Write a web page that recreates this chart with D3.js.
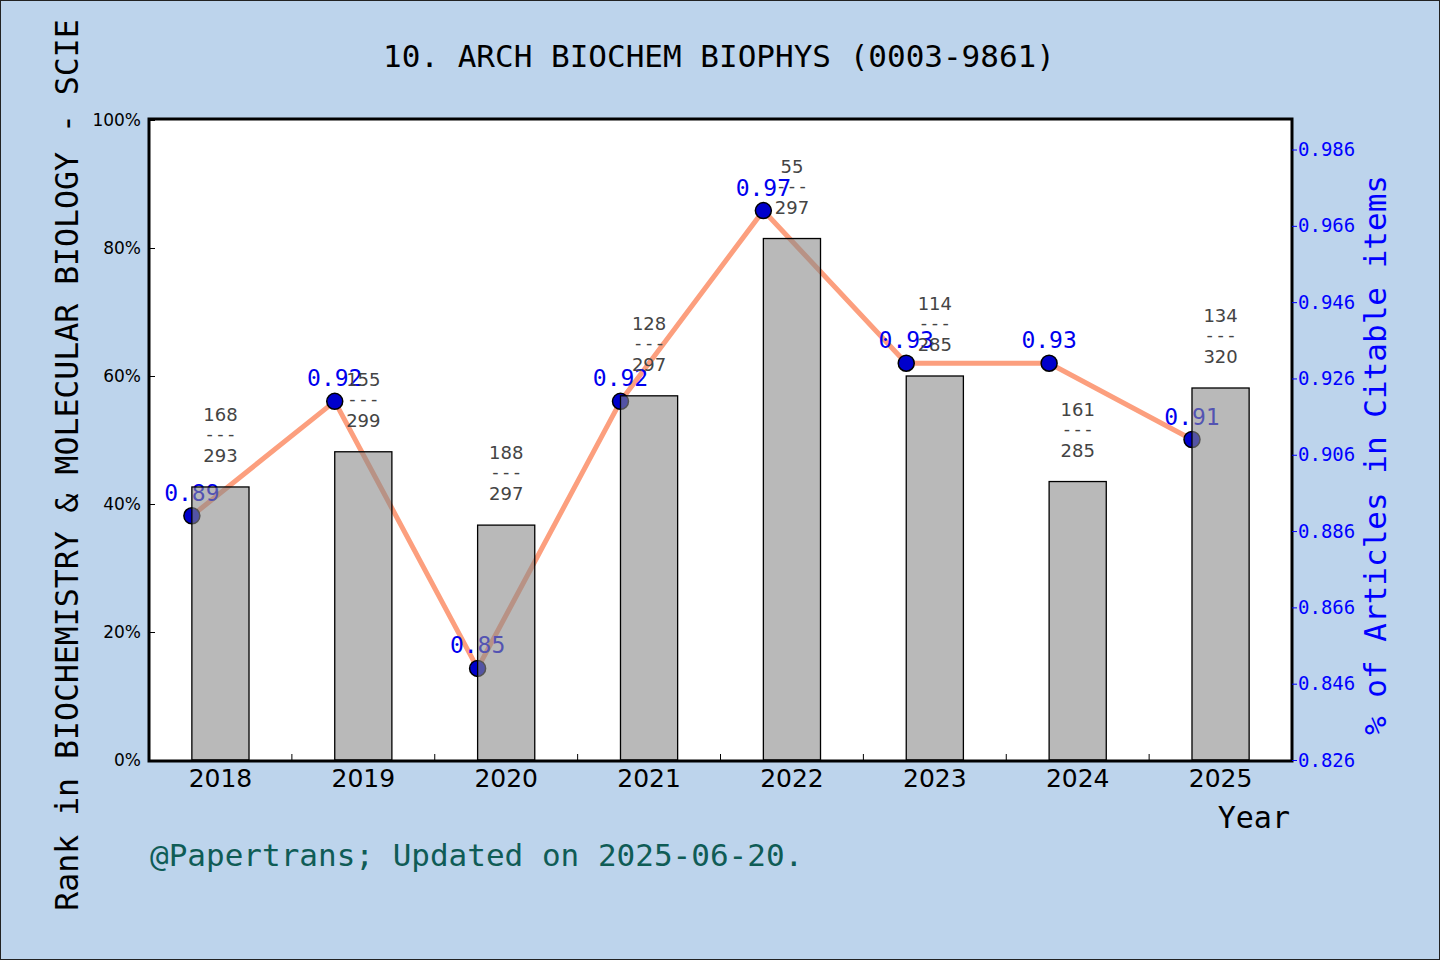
<!DOCTYPE html>
<html>
<head>
<meta charset="utf-8">
<script src="https://cdn.jsdelivr.net/npm/d3@7"></script>
<style>
  body { margin: 0; background: #bdd4ec; }
  svg { display: block; }
</style>
</head>
<body>
<div id="chart"></div>
<script>
var years = ['2018', '2019', '2020', '2021', '2022', '2023', '2024', '2025'];
var ranks = [168, 155, 188, 128, 55, 114, 161, 134];
var totals = [293, 299, 297, 297, 297, 285, 285, 320];
var citable = [0.89, 0.92, 0.85, 0.92, 0.97, 0.93, 0.93, 0.91];
var leftTicks = [0, 0.2, 0.4, 0.6, 0.8, 1.0];
var rightTicks = [0.826, 0.846, 0.866, 0.886, 0.906, 0.926, 0.946, 0.966, 0.986];

var width = 1440, height = 960;
var pLeft = 149, pRight = 1292, pTop = 119, pBottom = 761;
var mono = '"DejaVu Sans Mono", "Liberation Mono", monospace';
var sans = '"DejaVu Sans", sans-serif';

var svg = d3.select('#chart').append('svg')
    .attr('width', width)
    .attr('height', height);

svg.append('rect')
    .attr('x', 0.5).attr('y', 0.5)
    .attr('width', width - 1).attr('height', height - 1)
    .attr('fill', '#bdd4ec')
    .attr('stroke', '#222');

svg.append('rect')
    .attr('x', pLeft).attr('y', pTop)
    .attr('width', pRight - pLeft).attr('height', pBottom - pTop)
    .attr('fill', '#fff');

var x = d3.scaleBand().domain(years).range([pLeft, pRight]).padding(0);
var y = d3.scaleLinear().domain([0, 1]).range([760, 120]);
var y2 = d3.scaleLinear().domain([0.826, 0.994]).range([760, 119]);
var bw = x.bandwidth() * 0.4;

var data = years.map(function (yr, i) {
    return { year: yr, rank: ranks[i], total: totals[i], share: 1 - ranks[i] / totals[i], cit: citable[i] };
});

var px = function (d) { return x(d.year) + (x.bandwidth() - bw) / 2; };

// line + points + value labels (under the bars)
var line = d3.line()
    .x(function (d) { return px(d); })
    .y(function (d) { return y2(d.cit); });

svg.append('path')
    .datum(data)
    .attr('d', line)
    .attr('fill', 'none')
    .attr('stroke', '#fc9f7e')
    .attr('stroke-width', 5)
    .attr('stroke-linejoin', 'round');

svg.selectAll('.dot')
    .data(data)
    .enter().append('circle')
    .attr('class', 'dot')
    .attr('cx', px)
    .attr('cy', function (d) { return y2(d.cit); })
    .attr('r', 8)
    .attr('fill', '#0000cc')
    .attr('stroke', '#000')
    .attr('stroke-width', 1.5);

svg.selectAll('.cit-label')
    .data(data)
    .enter().append('text')
    .attr('class', 'cit-label')
    .attr('x', px)
    .attr('y', function (d) { return y2(d.cit) - 15; })
    .attr('text-anchor', 'middle')
    .style('font-family', mono)
    .style('font-size', '23px')
    .attr('fill', '#0000ee')
    .text(function (d) { return d.cit.toFixed(2); });

// bars
svg.selectAll('.bar')
    .data(data)
    .enter().append('rect')
    .attr('class', 'bar')
    .attr('x', px)
    .attr('y', function (d) { return y(d.share); })
    .attr('width', bw)
    .attr('height', function (d) { return y(0) - y(d.share); })
    .attr('fill', '#8a8a8a')
    .attr('fill-opacity', 0.6)
    .attr('stroke', '#000')
    .attr('stroke-width', 1.3);

// rank / total fractions
var frac = svg.selectAll('.frac')
    .data(data)
    .enter().append('g')
    .attr('class', 'frac')
    .attr('transform', function (d) {
        return 'translate(' + (x(d.year) + x.bandwidth() / 2) + ',' + y(d.share) + ')';
    })
    .style('font-family', sans)
    .style('font-size', '18px')
    .attr('fill', '#444')
    .attr('text-anchor', 'middle');

frac.append('text').attr('y', -66).text(function (d) { return d.rank; });
frac.append('text').attr('y', -47).style('font-family', mono).text('---');
frac.append('text').attr('y', -25).text(function (d) { return d.total; });

// frame
svg.append('rect')
    .attr('x', pLeft).attr('y', pTop)
    .attr('width', pRight - pLeft).attr('height', pBottom - pTop)
    .attr('fill', 'none')
    .attr('stroke', '#000')
    .attr('stroke-width', 3);

// left axis, ticks pointing in
var yAxis = svg.append('g')
    .attr('transform', 'translate(' + pLeft + ',0)')
    .call(d3.axisLeft(y).tickValues(leftTicks).tickFormat(d3.format('.0%')).tickSize(-6).tickPadding(8));
yAxis.select('.domain').remove();
yAxis.selectAll('text').style('font-family', sans).style('font-size', '17px').attr('fill', '#000');

// right axis
var y2Axis = svg.append('g')
    .attr('transform', 'translate(' + pRight + ',0)')
    .call(d3.axisRight(y2).tickValues(rightTicks).tickFormat(d3.format('.3f')).tickSize(5).tickPadding(1));
y2Axis.select('.domain').remove();
y2Axis.selectAll('line').attr('stroke', '#0000ff');
y2Axis.selectAll('text').style('font-family', mono).style('font-size', '19px').attr('fill', '#0000ff');

// bottom axis: labels + inner ticks at band edges
var xAxis = svg.append('g')
    .attr('transform', 'translate(0,' + pBottom + ')')
    .call(d3.axisBottom(x).tickSize(0).tickPadding(8));
xAxis.select('.domain').remove();
xAxis.selectAll('text').style('font-family', sans).style('font-size', '25px').attr('fill', '#000');

svg.selectAll('.xtick')
    .data(years.slice(1))
    .enter().append('line')
    .attr('class', 'xtick')
    .attr('x1', function (d) { return x(d); })
    .attr('x2', function (d) { return x(d); })
    .attr('y1', pBottom)
    .attr('y2', pBottom - 7)
    .attr('stroke', '#000');

// titles
svg.append('text')
    .attr('x', 719).attr('y', 67)
    .attr('text-anchor', 'middle')
    .style('font-family', mono).style('font-size', '31px')
    .text('10. ARCH BIOCHEM BIOPHYS (0003-9861)');

svg.append('text')
    .attr('transform', 'translate(78,465) rotate(-90)')
    .attr('text-anchor', 'middle')
    .style('font-family', mono).style('font-size', '31.5px')
    .text('Rank in BIOCHEMISTRY & MOLECULAR BIOLOGY - SCIE');

svg.append('text')
    .attr('transform', 'translate(1386,455) rotate(-90)')
    .attr('text-anchor', 'middle')
    .style('font-family', mono).style('font-size', '31px')
    .attr('fill', '#0000ff')
    .text('% of Articles in Citable items');

svg.append('text')
    .attr('x', 1290).attr('y', 828)
    .attr('text-anchor', 'end')
    .style('font-family', mono).style('font-size', '30px')
    .text('Year');

svg.append('text')
    .attr('x', 150).attr('y', 866)
    .style('font-family', mono).style('font-size', '31px')
    .attr('fill', '#0f5c56')
    .text('@Papertrans; Updated on 2025-06-20.');
</script>
</body>
</html>
